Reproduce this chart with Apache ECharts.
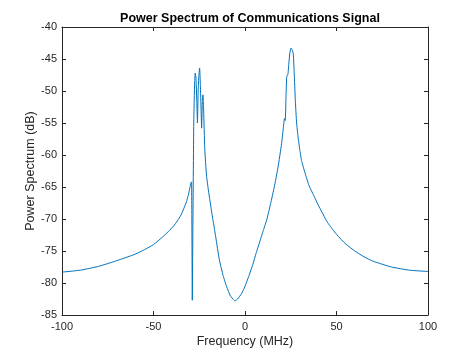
<!DOCTYPE html>
<html><head><meta charset="utf-8">
<script src="https://cdn.jsdelivr.net/npm/echarts@6/dist/echarts.min.js"></script>
<style>html,body{margin:0;padding:0;background:#fff}#c{width:474px;height:355px}</style>
</head><body><div id="c"></div>
<script>
const freqMHz = [-100,-90,-80,-70,-60,-55,-50,-45,-42,-39,-37,-35,-33.5,-32,-31,-30.1,-29.6,-29.2,-28.8,-28.5,-28.0,-27.5,-27.2,-26.8,-26.3,-26.0,-25.6,-25.2,-24.8,-24.4,-24.0,-23.7,-23.3,-23.0,-22.6,-22.0,-21,-20,-18,-17.3,-16,-14,-12,-10,-8,-6,-5.5,-4,-2,-0.9,0,2,4.5,6,8,10,12,14,16,18,20,21,21.6,22,22.4,22.8,23.5,24,24.6,25.1,25.8,26.4,27,27.5,28.2,29,30,31,33,35,37,40,45,50,55,60,65,70,80,90,100];
const powerDB = [-78.3,-78.0,-77.4,-76.5,-75.5,-74.8,-74.0,-72.8,-72.0,-71.1,-70.3,-69.4,-68.4,-67.3,-66.3,-65.1,-64.4,-64.2,-82.7,-72,-55,-48.5,-47.2,-48,-52,-55.0,-50,-47.5,-46.4,-49,-53,-55.8,-51.5,-50.6,-53,-59,-63.3,-65.5,-69.3,-70.5,-72.8,-76.4,-78.8,-80.6,-82,-82.7,-82.8,-82.5,-81.7,-81.1,-80.5,-79,-76.9,-75.4,-73.6,-71.8,-70,-67.6,-65,-62,-58.2,-55.6,-54.3,-54.6,-51,-47.8,-47.3,-45.5,-43.9,-43.3,-43.6,-44.2,-48,-51.5,-55,-57.2,-59.3,-61,-63,-64.8,-66,-67.8,-70.5,-72.4,-73.9,-75.0,-75.9,-76.6,-77.5,-78.0,-78.2];
const xTicks = [-100,-50,0,50,100];
const yTicks = [-85,-80,-75,-70,-65,-60,-55,-50,-45,-40];

const data = freqMHz.map((f,i)=>[f,powerDB[i]]);
const axisCol = '#262626';
const font = 'Liberation Sans, Arial, sans-serif';
const lbl = {color:axisCol,fontSize:11,fontFamily:font};
const chart = echarts.init(document.getElementById('c'),null,{renderer:'canvas'});
chart.setOption({
  animation:false,
  backgroundColor:'#fff',
  title:{text:'Power Spectrum of Communications Signal',left:245,textAlign:'center',top:7,
    textStyle:{fontSize:12.5,fontWeight:'bold',color:'#000',fontFamily:font}},
  grid:{left:62,right:46,top:27,bottom:40},
  xAxis:[{type:'value',min:xTicks[0],max:xTicks[xTicks.length-1],interval:50,
    name:'Frequency (MHz)',nameLocation:'middle',nameGap:20,nameMoveOverlap:false,nameTextStyle:{...lbl,fontSize:12.5},
    axisLine:{show:true,onZero:false,lineStyle:{color:axisCol,width:1}},
    axisTick:{show:true,inside:true,length:4,lineStyle:{color:axisCol}},
    axisLabel:{...lbl,margin:6},splitLine:{show:false}},
   {type:'value',position:'top',min:-100,max:100,interval:50,
    axisLine:{show:true,onZero:false,lineStyle:{color:axisCol,width:1}},
    axisTick:{show:true,inside:true,length:4,lineStyle:{color:axisCol}},
    axisLabel:{show:false},splitLine:{show:false}}],
  yAxis:[{type:'value',min:yTicks[0],max:yTicks[yTicks.length-1],interval:5,
    name:'Power Spectrum (dB)',nameLocation:'middle',nameGap:25,nameMoveOverlap:false,nameTextStyle:{...lbl,fontSize:12.5},
    axisLine:{show:true,onZero:false,lineStyle:{color:axisCol,width:1}},
    axisTick:{show:true,inside:true,length:4,lineStyle:{color:axisCol}},
    axisLabel:{...lbl,margin:5},splitLine:{show:false}},
   {type:'value',position:'right',min:-85,max:-40,interval:5,
    axisLine:{show:true,onZero:false,lineStyle:{color:axisCol,width:1}},
    axisTick:{show:true,inside:true,length:4,lineStyle:{color:axisCol}},
    axisLabel:{show:false},splitLine:{show:false}}],
  series:[{type:'line',data:data,showSymbol:false,smooth:0.15,
    lineStyle:{color:'#0072BD',width:1},clip:true}]
});
</script></body></html>
